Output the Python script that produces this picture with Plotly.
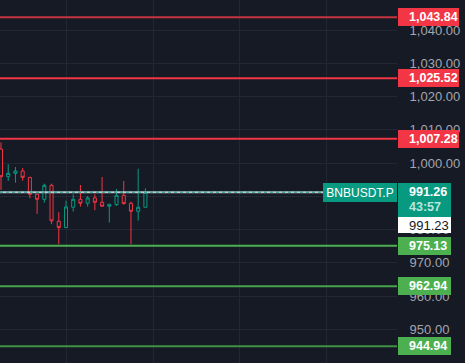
import plotly.graph_objects as go

# ---- data ----
bars = list(range(21))
opens  = [1004.2, 995.9, 996.9, 997.6, 995.7, 990.6, 989.1, 993.3, 982.5, 980.6, 986.7,
          989.1, 987.9, 989.5, 988.2, 987.0, 987.5, 990.3, 987.9, 985.5, 986.7]
highs  = [1006.2, 999.6, 998.8, 998.5, 995.7, 990.6, 993.8, 993.8, 985.2, 988.7, 990.6,
          993.4, 990.1, 990.6, 995.8, 987.6, 992.2, 994.6, 988.4, 998.3, 992.4]
lows   = [991.9, 994.6, 994.1, 994.7, 989.4, 984.7, 988.1, 981.6, 975.6, 980.6, 985.4,
          986.9, 986.9, 985.8, 987.0, 982.1, 987.1, 987.5, 975.6, 982.7, 986.7]
closes = [995.9, 996.9, 997.6, 995.7, 990.6, 989.1, 993.3, 982.6, 980.6, 986.8, 989.1,
          987.9, 989.5, 988.2, 987.0, 987.6, 990.3, 987.8, 985.5, 986.7, 991.26]

resistance_levels = [1043.84, 1025.52, 1007.28]
support_levels = [975.13, 962.94, 944.94]
last_price = 991.26
mark_price = 991.23
countdown = "43:57"
symbol = "BNBUSDT.P"
tick_values = [940, 950, 960, 970, 980, 990, 1000, 1010, 1020, 1030, 1040]
tick_labels = ["{:,.2f}".format(v) for v in tick_values]

BG = "#161a25"
UP = "#089981"
DOWN = "#F23645"
GREEN_LVL = "#4CAF50"
FONT = "Liberation Sans"

fig = go.Figure()
fig.add_trace(go.Candlestick(
    x=bars, open=opens, high=highs, low=lows, close=closes,
    increasing=dict(line=dict(color=UP, width=1), fillcolor=BG),
    decreasing=dict(line=dict(color=DOWN, width=1), fillcolor=BG),
    hoverinfo="skip", showlegend=False,
))

shapes = []
annotations = []

res_line_colors = ["#c4343e", DOWN, DOWN]
sup_line_colors = ["#4CAF50", "#47a34b", "#3f9143"]

def label_font(color, size=12.5):
    return dict(family=FONT, size=size, color=color, weight="bold")

def box_label(y, text, bg, fg, width, height=18):
    annotations.append(dict(x=1, xref="paper", y=y, yref="y", xanchor="left", yanchor="middle",
                            xshift=1, text=" ", showarrow=False, bgcolor=bg, width=width,
                            height=height, borderpad=0, borderwidth=0, font=dict(size=4)))
    annotations.append(dict(x=1, xref="paper", y=y, yref="y", xanchor="left", yanchor="middle",
                            xshift=11, text=text, showarrow=False, borderpad=0,
                            font=label_font(fg)))

for lvl, c in zip(resistance_levels, res_line_colors):
    shapes.append(dict(type="line", xref="paper", x0=0, x1=1, yref="y", y0=lvl, y1=lvl,
                       line=dict(color=c, width=2), layer="above"))
    box_label(lvl, "{:,.2f}".format(lvl), DOWN, "white", 61)

for lvl, c in zip(support_levels, sup_line_colors):
    shapes.append(dict(type="line", xref="paper", x0=0, x1=1, yref="y", y0=lvl, y1=lvl,
                       line=dict(color=c, width=2), layer="above"))
    box_label(lvl, "{:,.2f}".format(lvl), GREEN_LVL, "white", 53)

# current price lines
shapes.append(dict(type="line", xref="paper", x0=0, x1=1, yref="y", y0=mark_price, y1=mark_price,
                   line=dict(color="#c3c7cf", width=2), layer="above"))
shapes.append(dict(type="line", xref="paper", x0=0, x1=1, yref="y", y0=last_price, y1=last_price,
                   line=dict(color=UP, width=1, dash="dot"), layer="above"))

# last price box (two lines)
annotations.append(dict(x=1, xref="paper", y=last_price, yref="y", xanchor="left", yanchor="top",
                        xshift=1, yshift=9, text=" ", showarrow=False, bgcolor=UP, width=53,
                        height=34, borderpad=0, borderwidth=0, font=dict(size=4)))
annotations.append(dict(x=1, xref="paper", y=last_price, yref="y", xanchor="left", yanchor="middle",
                        xshift=11, text=f"{last_price:.2f}", showarrow=False, borderpad=0,
                        font=label_font("white")))
annotations.append(dict(x=1, xref="paper", y=last_price, yref="y", xanchor="left", yanchor="middle",
                        xshift=11, yshift=-15, text=countdown, showarrow=False, borderpad=0,
                        font=label_font("#b9e6da")))
# mark price box
annotations.append(dict(x=1, xref="paper", y=last_price, yref="y", xanchor="left", yanchor="top",
                        xshift=1, yshift=-25, text=" ", showarrow=False, bgcolor="white", width=53,
                        height=16, borderpad=0, borderwidth=0, font=dict(size=4)))
annotations.append(dict(x=1, xref="paper", y=last_price, yref="y", xanchor="left", yanchor="middle",
                        xshift=11, yshift=-33, text=f"{mark_price:.2f}", showarrow=False, borderpad=0,
                        font=dict(family=FONT, size=13, color="#131722")))
# symbol label
annotations.append(dict(x=1, xref="paper", y=last_price, yref="y", xanchor="right", yanchor="middle",
                        xshift=0, text=symbol, showarrow=False, bgcolor=UP, width=74, height=19,
                        borderpad=0, borderwidth=0,
                        font=dict(family=FONT, size=12, color="white")))

fig.update_layout(
    width=465, height=363,
    margin=dict(l=0, r=68, t=0, b=0, autoexpand=False),
    paper_bgcolor=BG, plot_bgcolor=BG,
    boxgap=0.4,
    showlegend=False,
    shapes=shapes,
    annotations=annotations,
    xaxis=dict(range=[-0.14, 54.85], rangeslider=dict(visible=False), showticklabels=False,
               showgrid=True, gridcolor="#232734", gridwidth=1, tick0=9.1, dtick=12,
               zeroline=False, showline=False, ticks="", automargin=False),
    yaxis=dict(range=[939.88, 1049.02], side="right", tickvals=tick_values, ticktext=tick_labels,
               showgrid=True, gridcolor="#232734", gridwidth=1, zeroline=False, showline=False,
               ticks="outside", ticklen=9, tickcolor="rgba(0,0,0,0)", automargin=False,
               tickfont=dict(family=FONT, size=13, color="#a3a6af")),
)

fig.write_html("out.html", config={"displayModeBar": False},
               post_script="document.body.style.margin='0';document.body.style.background='#161a25';")
